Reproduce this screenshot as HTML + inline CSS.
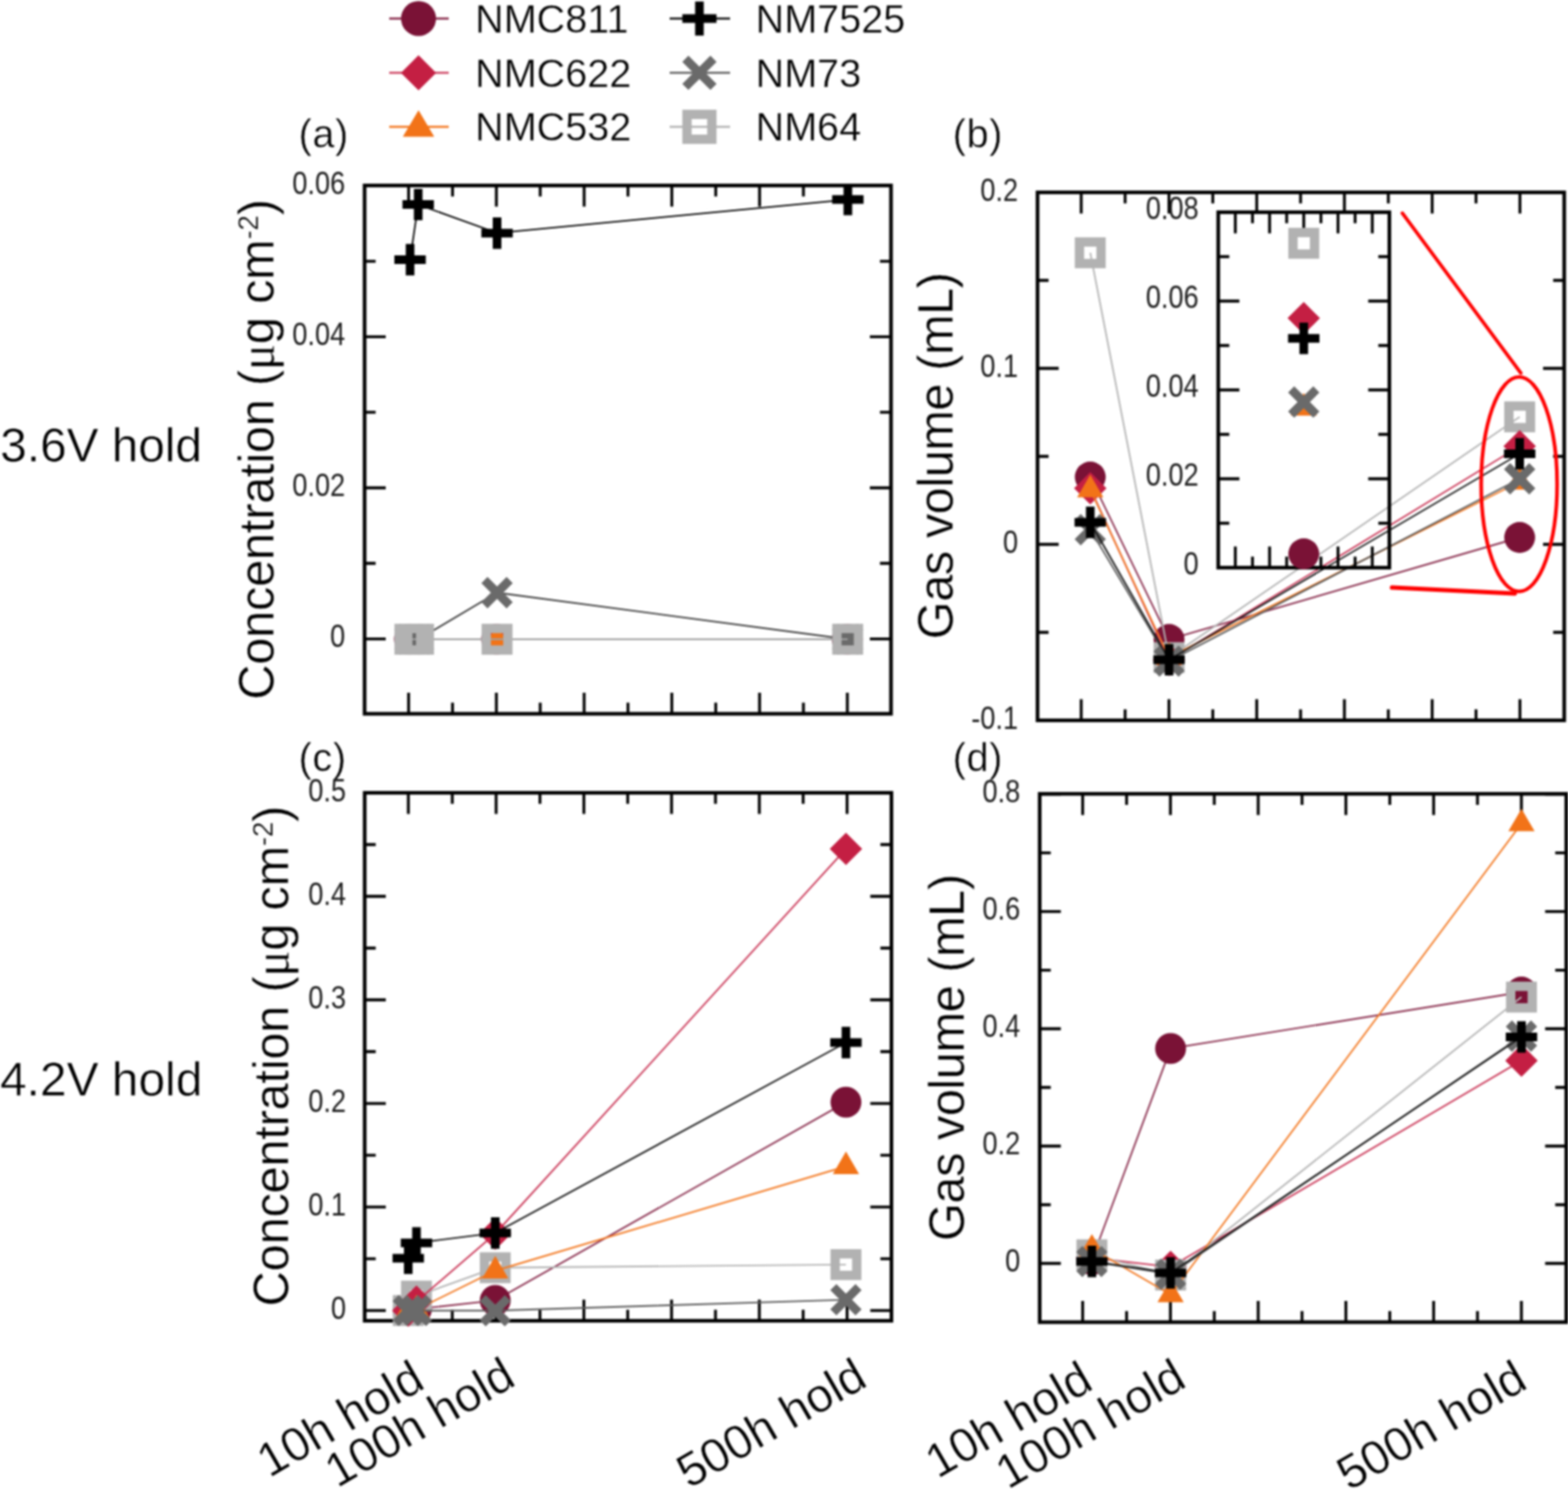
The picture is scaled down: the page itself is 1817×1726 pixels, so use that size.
<!DOCTYPE html>
<html lang="en"><head><meta charset="utf-8"><title>Figure</title>
<style>html,body{margin:0;padding:0;background:#fff}svg{display:block;filter:blur(0.8px)}text{font-family:"Liberation Sans",sans-serif}</style>
</head><body>
<svg width="1817" height="1726" viewBox="0 0 1817 1726">
<rect width="1817" height="1726" fill="#fff"/>
<g id="legend">
<line x1="451" x2="520" y1="21.5" y2="21.5" stroke="#8a2e4e" stroke-width="2.4"/>
<circle cx="485.0" cy="21.5" r="20.3" fill="#7a1236"/>
<text x="550.5" y="37.6" font-size="45.9" fill="#000" stroke="#fff" stroke-width="0.4">NMC811</text>
<line x1="451" x2="520" y1="84.4" y2="84.4" stroke="#cb3a5a" stroke-width="2.4"/>
<path d="M464.6 84.4L485.0 64.0L505.4 84.4L485.0 104.8Z" fill="#c41f43"/>
<text x="550.5" y="100.6" font-size="45.9" fill="#000" stroke="#fff" stroke-width="0.4">NMC622</text>
<line x1="451" x2="520" y1="147" y2="147" stroke="#f37a24" stroke-width="2.4"/>
<path d="M466.8 158.5L485.0 127.8L503.2 158.5Z" fill="#f27318"/>
<text x="550.5" y="162.6" font-size="45.9" fill="#000" stroke="#fff" stroke-width="0.4">NMC532</text>
<line x1="776" x2="846" y1="21.5" y2="21.5" stroke="#1a1a1a" stroke-width="2.4"/>
<path d="M790.7 16.5H805.5V1.7H815.5V16.5H830.3V26.5H815.5V41.3H805.5V26.5H790.7Z" fill="#000000"/>
<text x="875.5" y="37.6" font-size="45.9" fill="#000" stroke="#fff" stroke-width="0.4">NM7525</text>
<line x1="776" x2="846" y1="84.4" y2="84.4" stroke="#5a5a5a" stroke-width="2.4"/>
<path d="M794.2 68.1L826.8 100.7M794.2 100.7L826.8 68.1" stroke="#6a6a6a" stroke-width="10" fill="none"/>
<text x="875.5" y="100.6" font-size="45.9" fill="#000" stroke="#fff" stroke-width="0.4">NM73</text>
<line x1="776" x2="846" y1="147" y2="147" stroke="#b4b4b4" stroke-width="2.4"/>
<rect x="796.1" y="132.6" width="28.8" height="28.8" fill="none" stroke="#b2b2b2" stroke-width="10.8"/>
<text x="875.5" y="162.6" font-size="45.9" fill="#000" stroke="#fff" stroke-width="0.4">NM64</text>
</g>
<text x="0.3" y="535" font-size="55.3" stroke="#fff" stroke-width="0.5">3.6V hold</text>
<text x="0" y="1270" font-size="55.5" stroke="#fff" stroke-width="0.5">4.2V hold</text>
<text x="346" y="171" font-size="46" letter-spacing="0.7" stroke="#fff" stroke-width="0.5">(a)</text>
<text x="1104" y="171" font-size="46" letter-spacing="0.7" stroke="#fff" stroke-width="0.5">(b)</text>
<text x="346" y="894" font-size="46" letter-spacing="0.7" stroke="#fff" stroke-width="0.5">(c)</text>
<text x="1104" y="894" font-size="46" letter-spacing="0.7" stroke="#fff" stroke-width="0.5">(d)</text>
<text transform="translate(316.7 811.1) rotate(-90) scale(0.975 1)" font-size="58" letter-spacing="-0.3" stroke="#fff" stroke-width="0.4">Concentration (<tspan font-family="Liberation Serif,serif">μ</tspan>g cm<tspan font-size="33" dy="-18">-2</tspan><tspan dy="18">)</tspan></text>
<text transform="translate(1103.6 741) rotate(-90) scale(0.975 1)" font-size="58" letter-spacing="-0.58" stroke="#fff" stroke-width="0.4">Gas volume (mL)</text>
<text transform="translate(334.3 1514.2) rotate(-90) scale(0.975 1)" font-size="58" letter-spacing="-0.3" stroke="#fff" stroke-width="0.4">Concentration (<tspan font-family="Liberation Serif,serif">μ</tspan>g cm<tspan font-size="33" dy="-18">-2</tspan><tspan dy="18">)</tspan></text>
<text transform="translate(1116.8 1438.6) rotate(-90) scale(0.975 1)" font-size="58" letter-spacing="-0.58" stroke="#fff" stroke-width="0.4">Gas volume (mL)</text>
<g id="pa">
<rect x="422.5" y="215" width="610.0" height="612.4" fill="none" stroke="#000" stroke-width="4.2"/>
<path d="M473.5 215v24.5M473.5 827.4v-24.5M575.2 215v24.5M575.2 827.4v-24.5M676.9 215v24.5M676.9 827.4v-24.5M778.5 215v24.5M778.5 827.4v-24.5M880.2 215v24.5M880.2 827.4v-24.5M981.9 215v24.5M981.9 827.4v-24.5M524.4 215v12.8M524.4 827.4v-12.8M626.0 215v12.8M626.0 827.4v-12.8M727.7 215v12.8M727.7 827.4v-12.8M829.4 215v12.8M829.4 827.4v-12.8M931.0 215v12.8M931.0 827.4v-12.8M422.5 215.2h24.5M1032.5 215.2h-24.5M422.5 390.3h24.5M1032.5 390.3h-24.5M422.5 565.5h24.5M1032.5 565.5h-24.5M422.5 740.6h24.5M1032.5 740.6h-24.5M422.5 302.8h12.8M1032.5 302.8h-12.8M422.5 477.9h12.8M1032.5 477.9h-12.8M422.5 653.0h12.8M1032.5 653.0h-12.8" stroke="#000" stroke-width="3.3" fill="none"/>
<text transform="translate(399.9 224.7) scale(0.85 1)" text-anchor="end" font-size="37" fill="#1e1e1e">0.06</text>
<text transform="translate(399.9 399.8) scale(0.85 1)" text-anchor="end" font-size="37" fill="#1e1e1e">0.04</text>
<text transform="translate(399.9 575.0) scale(0.85 1)" text-anchor="end" font-size="37" fill="#1e1e1e">0.02</text>
<text transform="translate(399.9 750.1) scale(0.85 1)" text-anchor="end" font-size="37" fill="#1e1e1e">0</text>
<circle cx="474.4" cy="741.0" r="17.9" fill="#7a1236"/>
<circle cx="484.4" cy="741.0" r="17.9" fill="#7a1236"/>
<circle cx="575.4" cy="741.0" r="17.9" fill="#7a1236"/>
<circle cx="981.7" cy="741.0" r="17.9" fill="#7a1236"/>
<path d="M456.8 741.0L475.0 722.8L493.2 741.0L475.0 759.2Z" fill="#c41f43"/>
<path d="M466.8 741.0L485.0 722.8L503.2 741.0L485.0 759.2Z" fill="#c41f43"/>
<path d="M557.8 741.0L576.0 722.8L594.2 741.0L576.0 759.2Z" fill="#c41f43"/>
<path d="M964.1 741.0L982.3 722.8L1000.5 741.0L982.3 759.2Z" fill="#c41f43"/>
<path d="M459.8 749.9L475.0 723.8L490.2 749.9Z" fill="#f27318"/>
<path d="M469.8 749.9L485.0 723.8L500.2 749.9Z" fill="#f27318"/>
<path d="M560.8 749.9L576.0 723.8L591.2 749.9Z" fill="#f27318"/>
<path d="M967.1 749.9L982.3 723.8L997.5 749.9Z" fill="#f27318"/>
<polyline points="475.2,301.0 484.6,237.1 576.0,270.2 982.5,231.3" fill="none" stroke="#000000" stroke-width="1.8"/>
<path d="M457.0 296.0H470.2V282.8H480.2V296.0H493.4V306.0H480.2V319.2H470.2V306.0H457.0Z" fill="#000000"/>
<path d="M466.4 232.1H479.6V218.9H489.6V232.1H502.8V242.1H489.6V255.3H479.6V242.1H466.4Z" fill="#000000"/>
<path d="M557.8 265.2H571.0V252.0H581.0V265.2H594.2V275.2H581.0V288.4H571.0V275.2H557.8Z" fill="#000000"/>
<path d="M964.3 226.3H977.5V213.1H987.5V226.3H1000.7V236.3H987.5V249.5H977.5V236.3H964.3Z" fill="#000000"/>
<polyline points="475.0,741.0 485.0,741.0 576.0,687.0 982.3,741.0" fill="none" stroke="#3c3c3c" stroke-width="1.8"/>
<path d="M460.4 726.4L489.6 755.6M460.4 755.6L489.6 726.4" stroke="#6a6a6a" stroke-width="10" fill="none"/>
<path d="M470.4 726.4L499.6 755.6M470.4 755.6L499.6 726.4" stroke="#6a6a6a" stroke-width="10" fill="none"/>
<path d="M561.4 672.4L590.6 701.6M561.4 701.6L590.6 672.4" stroke="#6a6a6a" stroke-width="10" fill="none"/>
<path d="M967.7 726.4L996.9 755.6M967.7 755.6L996.9 726.4" stroke="#6a6a6a" stroke-width="10" fill="none"/>
<polyline points="475.0,741.0 485.0,741.0 576.0,741.0 982.3,741.0" fill="none" stroke="#a0a0a0" stroke-width="1.8"/>
<rect x="462.5" y="728.5" width="25.0" height="25.0" fill="none" stroke="#b2b2b2" stroke-width="10.8"/>
<rect x="472.5" y="728.5" width="25.0" height="25.0" fill="none" stroke="#b2b2b2" stroke-width="10.8"/>
<rect x="563.5" y="728.5" width="25.0" height="25.0" fill="none" stroke="#b2b2b2" stroke-width="10.8"/>
<rect x="969.8" y="728.5" width="25.0" height="25.0" fill="none" stroke="#b2b2b2" stroke-width="10.8"/>
</g>
<g id="pb">
<rect x="1202.3" y="223" width="610.3" height="612.0" fill="none" stroke="#000" stroke-width="4.2"/>
<path d="M1252.9 223v24.5M1252.9 835v-24.5M1354.6 223v24.5M1354.6 835v-24.5M1456.3 223v24.5M1456.3 835v-24.5M1557.9 223v24.5M1557.9 835v-24.5M1659.6 223v24.5M1659.6 835v-24.5M1761.3 223v24.5M1761.3 835v-24.5M1303.8 223v12.8M1303.8 835v-12.8M1405.4 223v12.8M1405.4 835v-12.8M1507.1 223v12.8M1507.1 835v-12.8M1608.8 223v12.8M1608.8 835v-12.8M1710.4 223v12.8M1710.4 835v-12.8M1202.3 223.0h24.5M1812.6 223.0h-24.5M1202.3 427.0h24.5M1812.6 427.0h-24.5M1202.3 631.0h24.5M1812.6 631.0h-24.5M1202.3 835.0h24.5M1812.6 835.0h-24.5M1202.3 325.0h12.8M1812.6 325.0h-12.8M1202.3 529.0h12.8M1812.6 529.0h-12.8M1202.3 733.0h12.8M1812.6 733.0h-12.8" stroke="#000" stroke-width="3.3" fill="none"/>
<text transform="translate(1179.7 232.5) scale(0.85 1)" text-anchor="end" font-size="37" fill="#1e1e1e">0.2</text>
<text transform="translate(1179.7 436.5) scale(0.85 1)" text-anchor="end" font-size="37" fill="#1e1e1e">0.1</text>
<text transform="translate(1179.7 640.5) scale(0.85 1)" text-anchor="end" font-size="37" fill="#1e1e1e">0</text>
<text transform="translate(1179.7 844.5) scale(0.85 1)" text-anchor="end" font-size="37" fill="#1e1e1e">-0.1</text>
<polyline points="1263.4,553.0 1354.7,741.2 1761.0,623.0" fill="none" stroke="#8a2e4e" stroke-width="1.9"/>
<circle cx="1263.4" cy="553.0" r="17.9" fill="#7a1236"/>
<circle cx="1354.7" cy="741.2" r="17.9" fill="#7a1236"/>
<circle cx="1761.0" cy="623.0" r="17.9" fill="#7a1236"/>
<polyline points="1263.4,293.0 1354.7,762.3 1761.0,483.2" fill="none" stroke="#b4b4b4" stroke-width="1.9"/>
<rect x="1250.9" y="280.5" width="25.0" height="25.0" fill="none" stroke="#b2b2b2" stroke-width="10.8"/>
<rect x="1342.2" y="749.8" width="25.0" height="25.0" fill="none" stroke="#b2b2b2" stroke-width="10.8"/>
<rect x="1748.5" y="470.7" width="25.0" height="25.0" fill="none" stroke="#b2b2b2" stroke-width="10.8"/>
<polyline points="1263.4,566.0 1354.7,765.0 1761.0,517.3" fill="none" stroke="#cb3a5a" stroke-width="1.9"/>
<path d="M1244.6 566.0L1263.4 547.2L1282.2 566.0L1263.4 584.8Z" fill="#c41f43"/>
<path d="M1335.9 765.0L1354.7 746.2L1373.5 765.0L1354.7 783.8Z" fill="#c41f43"/>
<path d="M1742.2 517.3L1761.0 498.5L1779.8 517.3L1761.0 536.1Z" fill="#c41f43"/>
<polyline points="1263.4,567.5 1354.7,761.8 1761.0,558.5" fill="none" stroke="#f37a24" stroke-width="1.9"/>
<path d="M1248.2 576.4L1263.4 550.3L1278.6 576.4Z" fill="#f27318"/>
<path d="M1339.5 770.7L1354.7 744.6L1369.9 770.7Z" fill="#f27318"/>
<path d="M1745.8 567.4L1761.0 541.3L1776.2 567.4Z" fill="#f27318"/>
<polyline points="1263.4,614.0 1354.7,766.3 1761.0,555.0" fill="none" stroke="#5a5a5a" stroke-width="1.9"/>
<path d="M1248.8 599.4L1278.0 628.6M1248.8 628.6L1278.0 599.4" stroke="#6a6a6a" stroke-width="10" fill="none"/>
<path d="M1340.1 751.7L1369.3 780.9M1340.1 780.9L1369.3 751.7" stroke="#6a6a6a" stroke-width="10" fill="none"/>
<path d="M1746.4 540.4L1775.6 569.6M1746.4 569.6L1775.6 540.4" stroke="#6a6a6a" stroke-width="10" fill="none"/>
<polyline points="1263.4,605.5 1354.7,764.7 1761.0,526.0" fill="none" stroke="#1a1a1a" stroke-width="1.9"/>
<path d="M1245.2 600.5H1258.4V587.3H1268.4V600.5H1281.6V610.5H1268.4V623.7H1258.4V610.5H1245.2Z" fill="#000000"/>
<path d="M1336.5 759.7H1349.7V746.5H1359.7V759.7H1372.9V769.7H1359.7V782.9H1349.7V769.7H1336.5Z" fill="#000000"/>
<path d="M1742.8 521.0H1756.0V507.8H1766.0V521.0H1779.2V531.0H1766.0V544.2H1756.0V531.0H1742.8Z" fill="#000000"/>
<rect x="1411.7" y="246" width="198.3" height="412" fill="none" stroke="#000" stroke-width="4.2"/>
<path d="M1411.7 555.0h24.5M1610 555.0h-24.5M1411.7 452.0h24.5M1610 452.0h-24.5M1411.7 349.0h24.5M1610 349.0h-24.5M1411.7 606.5h12.8M1610 606.5h-12.8M1411.7 503.5h12.8M1610 503.5h-12.8M1411.7 400.5h12.8M1610 400.5h-12.8M1411.7 297.5h12.8M1610 297.5h-12.8M1431.5 246v24.5M1431.5 658v-24.5M1451.4 246v12.8M1451.4 658v-12.8M1471.2 246v24.5M1471.2 658v-24.5M1491.0 246v12.8M1491.0 658v-12.8M1510.8 246v24.5M1510.8 658v-24.5M1530.7 246v12.8M1530.7 658v-12.8M1550.5 246v24.5M1550.5 658v-24.5M1570.3 246v12.8M1570.3 658v-12.8M1590.2 246v24.5M1590.2 658v-24.5" stroke="#000" stroke-width="3.3" fill="none"/>
<circle cx="1510.8" cy="642.0" r="17.9" fill="#7a1236"/>
<rect x="1498.3" y="269.5" width="25.0" height="25.0" fill="none" stroke="#b2b2b2" stroke-width="10.8"/>
<path d="M1492.0 368.8L1510.8 350.0L1529.6 368.8L1510.8 387.6Z" fill="#c41f43"/>
<path d="M1495.6 481.7L1510.8 455.6L1526.0 481.7Z" fill="#f27318"/>
<path d="M1496.2 451.4L1525.4 480.6M1496.2 480.6L1525.4 451.4" stroke="#6a6a6a" stroke-width="10" fill="none"/>
<path d="M1492.6 387.2H1505.8V374.0H1515.8V387.2H1529.0V397.2H1515.8V410.4H1505.8V397.2H1492.6Z" fill="#000000"/>
<text transform="translate(1389 253.6) scale(0.85 1)" text-anchor="end" font-size="37" fill="#1e1e1e">0.08</text>
<text transform="translate(1389 356.6) scale(0.85 1)" text-anchor="end" font-size="37" fill="#1e1e1e">0.06</text>
<text transform="translate(1389 459.6) scale(0.85 1)" text-anchor="end" font-size="37" fill="#1e1e1e">0.04</text>
<text transform="translate(1389 562.6) scale(0.85 1)" text-anchor="end" font-size="37" fill="#1e1e1e">0.02</text>
<text transform="translate(1389 665.6) scale(0.85 1)" text-anchor="end" font-size="37" fill="#1e1e1e">0</text>
<ellipse cx="1760.4" cy="561.3" rx="44" ry="124.3" fill="none" stroke="#ff0000" stroke-width="4.2"/>
<path d="M1625 247L1762.4 432.5" stroke="#ff0000" stroke-width="4" fill="none" stroke-linecap="round"/>
<path d="M1613 681L1755.5 688" stroke="#ff0000" stroke-width="5" fill="none" stroke-linecap="round"/>
</g>
<g id="pc">
<rect x="422.6" y="919" width="610.4" height="612.0" fill="none" stroke="#000" stroke-width="4.2"/>
<path d="M473.2 919v24.5M473.2 1531v-24.5M574.9 919v24.5M574.9 1531v-24.5M676.6 919v24.5M676.6 1531v-24.5M778.2 919v24.5M778.2 1531v-24.5M879.9 919v24.5M879.9 1531v-24.5M981.6 919v24.5M981.6 1531v-24.5M524.1 919v12.8M524.1 1531v-12.8M625.7 919v12.8M625.7 1531v-12.8M727.4 919v12.8M727.4 1531v-12.8M829.1 919v12.8M829.1 1531v-12.8M930.7 919v12.8M930.7 1531v-12.8M422.6 1519.1h24.5M1033 1519.1h-24.5M422.6 1399.1h24.5M1033 1399.1h-24.5M422.6 1279.1h24.5M1033 1279.1h-24.5M422.6 1159.0h24.5M1033 1159.0h-24.5M422.6 1039.0h24.5M1033 1039.0h-24.5M422.6 919.0h24.5M1033 919.0h-24.5M422.6 1459.1h12.8M1033 1459.1h-12.8M422.6 1339.1h12.8M1033 1339.1h-12.8M422.6 1219.0h12.8M1033 1219.0h-12.8M422.6 1099.0h12.8M1033 1099.0h-12.8M422.6 979.0h12.8M1033 979.0h-12.8" stroke="#000" stroke-width="3.3" fill="none"/>
<text transform="translate(401.0 1528.6) scale(0.85 1)" text-anchor="end" font-size="37" fill="#1e1e1e">0</text>
<text transform="translate(401.0 1408.6) scale(0.85 1)" text-anchor="end" font-size="37" fill="#1e1e1e">0.1</text>
<text transform="translate(401.0 1288.6) scale(0.85 1)" text-anchor="end" font-size="37" fill="#1e1e1e">0.2</text>
<text transform="translate(401.0 1168.5) scale(0.85 1)" text-anchor="end" font-size="37" fill="#1e1e1e">0.3</text>
<text transform="translate(401.0 1048.5) scale(0.85 1)" text-anchor="end" font-size="37" fill="#1e1e1e">0.4</text>
<text transform="translate(401.0 928.5) scale(0.85 1)" text-anchor="end" font-size="37" fill="#1e1e1e">0.5</text>
<polyline points="473.1,1519.2 482.6,1517.5 573.9,1507.4 980.3,1277.6" fill="none" stroke="#8a2e4e" stroke-width="1.9"/>
<circle cx="473.1" cy="1519.2" r="17.9" fill="#7a1236"/>
<circle cx="482.6" cy="1517.5" r="17.9" fill="#7a1236"/>
<circle cx="573.9" cy="1507.4" r="17.9" fill="#7a1236"/>
<circle cx="980.3" cy="1277.6" r="17.9" fill="#7a1236"/>
<polyline points="473.1,1519.2 482.6,1502.4 573.9,1469.5 980.3,1465.9" fill="none" stroke="#b4b4b4" stroke-width="1.9"/>
<rect x="460.6" y="1506.7" width="25.0" height="25.0" fill="none" stroke="#b2b2b2" stroke-width="10.8"/>
<rect x="470.1" y="1489.9" width="25.0" height="25.0" fill="none" stroke="#b2b2b2" stroke-width="10.8"/>
<rect x="561.4" y="1457.0" width="25.0" height="25.0" fill="none" stroke="#b2b2b2" stroke-width="10.8"/>
<rect x="967.8" y="1453.4" width="25.0" height="25.0" fill="none" stroke="#b2b2b2" stroke-width="10.8"/>
<polyline points="473.1,1519.2 482.6,1508.7 573.9,1430.0 980.3,984.0" fill="none" stroke="#cb3a5a" stroke-width="1.9"/>
<path d="M454.3 1519.2L473.1 1500.4L491.9 1519.2L473.1 1538.0Z" fill="#c41f43"/>
<path d="M463.8 1508.7L482.6 1489.9L501.4 1508.7L482.6 1527.5Z" fill="#c41f43"/>
<path d="M555.1 1430.0L573.9 1411.2L592.7 1430.0L573.9 1448.8Z" fill="#c41f43"/>
<path d="M961.5 984.0L980.3 965.2L999.1 984.0L980.3 1002.8Z" fill="#c41f43"/>
<polyline points="473.1,1519.2 482.6,1518.0 573.9,1473.0 980.3,1352.0" fill="none" stroke="#f37a24" stroke-width="1.9"/>
<path d="M457.9 1528.1L473.1 1502.0L488.3 1528.1Z" fill="#f27318"/>
<path d="M467.4 1526.9L482.6 1500.8L497.8 1526.9Z" fill="#f27318"/>
<path d="M558.7 1481.9L573.9 1455.8L589.1 1481.9Z" fill="#f27318"/>
<path d="M965.1 1360.9L980.3 1334.8L995.5 1360.9Z" fill="#f27318"/>
<polyline points="473.1,1458.5 482.6,1440.7 573.9,1429.2 980.3,1208.5" fill="none" stroke="#1a1a1a" stroke-width="1.9"/>
<path d="M454.9 1453.5H468.1V1440.3H478.1V1453.5H491.3V1463.5H478.1V1476.7H468.1V1463.5H454.9Z" fill="#000000"/>
<path d="M464.4 1435.7H477.6V1422.5H487.6V1435.7H500.8V1445.7H487.6V1458.9H477.6V1445.7H464.4Z" fill="#000000"/>
<path d="M555.7 1424.2H568.9V1411.0H578.9V1424.2H592.1V1434.2H578.9V1447.4H568.9V1434.2H555.7Z" fill="#000000"/>
<path d="M962.1 1203.5H975.3V1190.3H985.3V1203.5H998.5V1213.5H985.3V1226.7H975.3V1213.5H962.1Z" fill="#000000"/>
<polyline points="473.1,1519.2 482.6,1519.2 573.9,1519.3 980.3,1506.6" fill="none" stroke="#5a5a5a" stroke-width="1.9"/>
<path d="M458.5 1504.6L487.7 1533.8M458.5 1533.8L487.7 1504.6" stroke="#6a6a6a" stroke-width="10" fill="none"/>
<path d="M468.0 1504.6L497.2 1533.8M468.0 1533.8L497.2 1504.6" stroke="#6a6a6a" stroke-width="10" fill="none"/>
<path d="M559.3 1504.7L588.5 1533.9M559.3 1533.9L588.5 1504.7" stroke="#6a6a6a" stroke-width="10" fill="none"/>
<path d="M965.7 1492.0L994.9 1521.2M965.7 1521.2L994.9 1492.0" stroke="#6a6a6a" stroke-width="10" fill="none"/>
</g>
<g id="pd">
<rect x="1204.8" y="920.2" width="610.2" height="612.4" fill="none" stroke="#000" stroke-width="4.2"/>
<path d="M1254.6 920.2v24.5M1254.6 1532.6v-24.5M1356.3 920.2v24.5M1356.3 1532.6v-24.5M1458.0 920.2v24.5M1458.0 1532.6v-24.5M1559.6 920.2v24.5M1559.6 1532.6v-24.5M1661.3 920.2v24.5M1661.3 1532.6v-24.5M1763.0 920.2v24.5M1763.0 1532.6v-24.5M1305.5 920.2v12.8M1305.5 1532.6v-12.8M1407.1 920.2v12.8M1407.1 1532.6v-12.8M1508.8 920.2v12.8M1508.8 1532.6v-12.8M1610.5 920.2v12.8M1610.5 1532.6v-12.8M1712.1 920.2v12.8M1712.1 1532.6v-12.8M1204.8 1464.5h24.5M1815 1464.5h-24.5M1204.8 1328.5h24.5M1815 1328.5h-24.5M1204.8 1192.5h24.5M1815 1192.5h-24.5M1204.8 1056.6h24.5M1815 1056.6h-24.5M1204.8 920.6h24.5M1815 920.6h-24.5M1204.8 1396.5h12.8M1815 1396.5h-12.8M1204.8 1260.5h12.8M1815 1260.5h-12.8M1204.8 1124.6h12.8M1815 1124.6h-12.8M1204.8 988.6h12.8M1815 988.6h-12.8" stroke="#000" stroke-width="3.3" fill="none"/>
<text transform="translate(1182.2 1474.0) scale(0.85 1)" text-anchor="end" font-size="37" fill="#1e1e1e">0</text>
<text transform="translate(1182.2 1338.0) scale(0.85 1)" text-anchor="end" font-size="37" fill="#1e1e1e">0.2</text>
<text transform="translate(1182.2 1202.0) scale(0.85 1)" text-anchor="end" font-size="37" fill="#1e1e1e">0.4</text>
<text transform="translate(1182.2 1066.1) scale(0.85 1)" text-anchor="end" font-size="37" fill="#1e1e1e">0.6</text>
<text transform="translate(1182.2 930.1) scale(0.85 1)" text-anchor="end" font-size="37" fill="#1e1e1e">0.8</text>
<polyline points="1265.3,1460.2 1356.5,1215.4 1763.1,1150.0" fill="none" stroke="#8a2e4e" stroke-width="1.9"/>
<circle cx="1265.3" cy="1460.2" r="17.9" fill="#7a1236"/>
<circle cx="1356.5" cy="1215.4" r="17.9" fill="#7a1236"/>
<circle cx="1763.1" cy="1150.0" r="17.9" fill="#7a1236"/>
<polyline points="1265.3,1458.0 1356.5,1468.6 1763.1,1229.4" fill="none" stroke="#cb3a5a" stroke-width="1.9"/>
<path d="M1246.5 1458.0L1265.3 1439.2L1284.1 1458.0L1265.3 1476.8Z" fill="#c41f43"/>
<path d="M1337.7 1468.6L1356.5 1449.8L1375.3 1468.6L1356.5 1487.4Z" fill="#c41f43"/>
<path d="M1744.3 1229.4L1763.1 1210.6L1781.9 1229.4L1763.1 1248.2Z" fill="#c41f43"/>
<polyline points="1265.3,1454.5 1356.5,1478.0 1763.1,1155.8" fill="none" stroke="#b4b4b4" stroke-width="1.9"/>
<rect x="1252.8" y="1442.0" width="25.0" height="25.0" fill="none" stroke="#b2b2b2" stroke-width="10.8"/>
<rect x="1344.0" y="1465.5" width="25.0" height="25.0" fill="none" stroke="#b2b2b2" stroke-width="10.8"/>
<rect x="1750.6" y="1143.3" width="25.0" height="25.0" fill="none" stroke="#b2b2b2" stroke-width="10.8"/>
<polyline points="1265.3,1447.6 1356.5,1500.6 1763.1,954.6" fill="none" stroke="#f37a24" stroke-width="1.9"/>
<path d="M1250.1 1456.5L1265.3 1430.4L1280.5 1456.5Z" fill="#f27318"/>
<path d="M1341.3 1509.5L1356.5 1483.4L1371.7 1509.5Z" fill="#f27318"/>
<path d="M1747.9 963.5L1763.1 937.4L1778.3 963.5Z" fill="#f27318"/>
<polyline points="1265.3,1462.3 1356.5,1477.0 1763.1,1201.0" fill="none" stroke="#5a5a5a" stroke-width="1.9"/>
<path d="M1250.7 1447.7L1279.9 1476.9M1250.7 1476.9L1279.9 1447.7" stroke="#6a6a6a" stroke-width="10" fill="none"/>
<path d="M1341.9 1462.4L1371.1 1491.6M1341.9 1491.6L1371.1 1462.4" stroke="#6a6a6a" stroke-width="10" fill="none"/>
<path d="M1748.5 1186.4L1777.7 1215.6M1748.5 1215.6L1777.7 1186.4" stroke="#6a6a6a" stroke-width="10" fill="none"/>
<polyline points="1265.3,1462.3 1356.5,1475.5 1763.1,1202.0" fill="none" stroke="#1a1a1a" stroke-width="1.9"/>
<path d="M1247.1 1457.3H1260.3V1444.1H1270.3V1457.3H1283.5V1467.3H1270.3V1480.5H1260.3V1467.3H1247.1Z" fill="#000000"/>
<path d="M1338.3 1470.5H1351.5V1457.3H1361.5V1470.5H1374.7V1480.5H1361.5V1493.7H1351.5V1480.5H1338.3Z" fill="#000000"/>
<path d="M1744.9 1197.0H1758.1V1183.8H1768.1V1197.0H1781.3V1207.0H1768.1V1220.2H1758.1V1207.0H1744.9Z" fill="#000000"/>
</g>
<g id="xl">
<text transform="translate(494.8 1608) rotate(-30)" text-anchor="end" font-size="55" stroke="#fff" stroke-width="0.5">10h hold</text>
<text transform="translate(600.1 1604.5) rotate(-30)" text-anchor="end" font-size="55" stroke="#fff" stroke-width="0.5">100h hold</text>
<text transform="translate(1007.5 1605.4) rotate(-30)" text-anchor="end" font-size="55" stroke="#fff" stroke-width="0.5">500h hold</text>
<text transform="translate(1269.2 1608.9) rotate(-30)" text-anchor="end" font-size="55" stroke="#fff" stroke-width="0.5">10h hold</text>
<text transform="translate(1377.3 1606.2) rotate(-30)" text-anchor="end" font-size="55" stroke="#fff" stroke-width="0.5">100h hold</text>
<text transform="translate(1772.5 1607.9) rotate(-30)" text-anchor="end" font-size="55" stroke="#fff" stroke-width="0.5">500h hold</text>
</g>
</svg>
</body></html>
